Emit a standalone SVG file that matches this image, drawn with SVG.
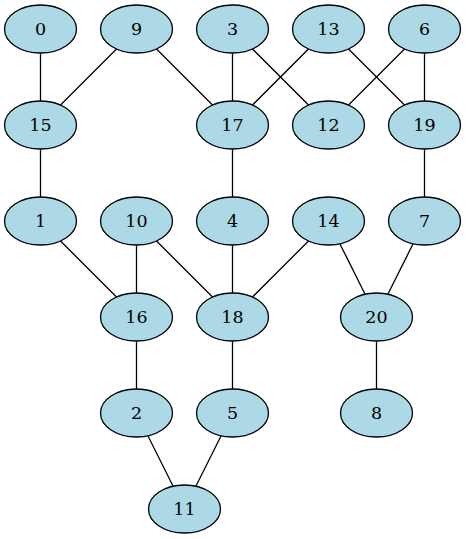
<svg xmlns="http://www.w3.org/2000/svg" width="467" height="539" viewBox="0 0 467 539">
<style>
.n ellipse{fill:#add8e6;stroke:#000;stroke-width:1.3}
.n text{font-family:"DejaVu Serif",serif;font-size:17.5px;text-anchor:middle;fill:#000}
#edges line{stroke:#000;stroke-width:1.3}
</style>
<rect width="467" height="539" fill="#fff"/>
<g id="edges">
<line x1="40.5" y1="29" x2="40.5" y2="125"/>
<line x1="136.5" y1="29" x2="40.5" y2="125"/>
<line x1="136.5" y1="29" x2="232.5" y2="125"/>
<line x1="232.5" y1="29" x2="232.5" y2="125"/>
<line x1="232.5" y1="29" x2="328.5" y2="125"/>
<line x1="328.5" y1="29" x2="232.5" y2="125"/>
<line x1="328.5" y1="29" x2="424.5" y2="125"/>
<line x1="424.5" y1="29" x2="328.5" y2="125"/>
<line x1="424.5" y1="29" x2="424.5" y2="125"/>
<line x1="40.5" y1="125" x2="40.5" y2="221"/>
<line x1="232.5" y1="125" x2="232.5" y2="221"/>
<line x1="424.5" y1="125" x2="424.5" y2="221"/>
<line x1="40.5" y1="221" x2="136.5" y2="317"/>
<line x1="136.5" y1="221" x2="136.5" y2="317"/>
<line x1="136.5" y1="221" x2="232.5" y2="317"/>
<line x1="232.5" y1="221" x2="232.5" y2="317"/>
<line x1="328.5" y1="221" x2="232.5" y2="317"/>
<line x1="328.5" y1="221" x2="376.5" y2="317"/>
<line x1="424.5" y1="221" x2="376.5" y2="317"/>
<line x1="136.5" y1="317" x2="136.5" y2="413"/>
<line x1="232.5" y1="317" x2="232.5" y2="413"/>
<line x1="376.5" y1="317" x2="376.5" y2="413"/>
<line x1="136.5" y1="413" x2="184.5" y2="509"/>
<line x1="232.5" y1="413" x2="184.5" y2="509"/>
</g>
<g id="n0" class="n"><ellipse cx="40.5" cy="29" rx="36" ry="24"/><text x="40.5" y="35">0</text></g>
<g id="n9" class="n"><ellipse cx="136.5" cy="29" rx="36" ry="24"/><text x="136.5" y="35">9</text></g>
<g id="n3" class="n"><ellipse cx="232.5" cy="29" rx="36" ry="24"/><text x="232.5" y="35">3</text></g>
<g id="n13" class="n"><ellipse cx="328.5" cy="29" rx="36" ry="24"/><text x="328.5" y="35">13</text></g>
<g id="n6" class="n"><ellipse cx="424.5" cy="29" rx="36" ry="24"/><text x="424.5" y="35">6</text></g>
<g id="n15" class="n"><ellipse cx="40.5" cy="125" rx="36" ry="24"/><text x="40.5" y="131">15</text></g>
<g id="n17" class="n"><ellipse cx="232.5" cy="125" rx="36" ry="24"/><text x="232.5" y="131">17</text></g>
<g id="n12" class="n"><ellipse cx="328.5" cy="125" rx="36" ry="24"/><text x="328.5" y="131">12</text></g>
<g id="n19" class="n"><ellipse cx="424.5" cy="125" rx="36" ry="24"/><text x="424.5" y="131">19</text></g>
<g id="n1" class="n"><ellipse cx="40.5" cy="221" rx="36" ry="24"/><text x="40.5" y="227">1</text></g>
<g id="n10" class="n"><ellipse cx="136.5" cy="221" rx="36" ry="24"/><text x="136.5" y="227">10</text></g>
<g id="n4" class="n"><ellipse cx="232.5" cy="221" rx="36" ry="24"/><text x="232.5" y="227">4</text></g>
<g id="n14" class="n"><ellipse cx="328.5" cy="221" rx="36" ry="24"/><text x="328.5" y="227">14</text></g>
<g id="n7" class="n"><ellipse cx="424.5" cy="221" rx="36" ry="24"/><text x="424.5" y="227">7</text></g>
<g id="n16" class="n"><ellipse cx="136.5" cy="317" rx="36" ry="24"/><text x="136.5" y="323">16</text></g>
<g id="n18" class="n"><ellipse cx="232.5" cy="317" rx="36" ry="24"/><text x="232.5" y="323">18</text></g>
<g id="n20" class="n"><ellipse cx="376.5" cy="317" rx="36" ry="24"/><text x="376.5" y="323">20</text></g>
<g id="n2" class="n"><ellipse cx="136.5" cy="413" rx="36" ry="24"/><text x="136.5" y="419">2</text></g>
<g id="n5" class="n"><ellipse cx="232.5" cy="413" rx="36" ry="24"/><text x="232.5" y="419">5</text></g>
<g id="n8" class="n"><ellipse cx="376.5" cy="413" rx="36" ry="24"/><text x="376.5" y="419">8</text></g>
<g id="n11" class="n"><ellipse cx="184.5" cy="509" rx="36" ry="24"/><text x="184.5" y="515">11</text></g>
</svg>
